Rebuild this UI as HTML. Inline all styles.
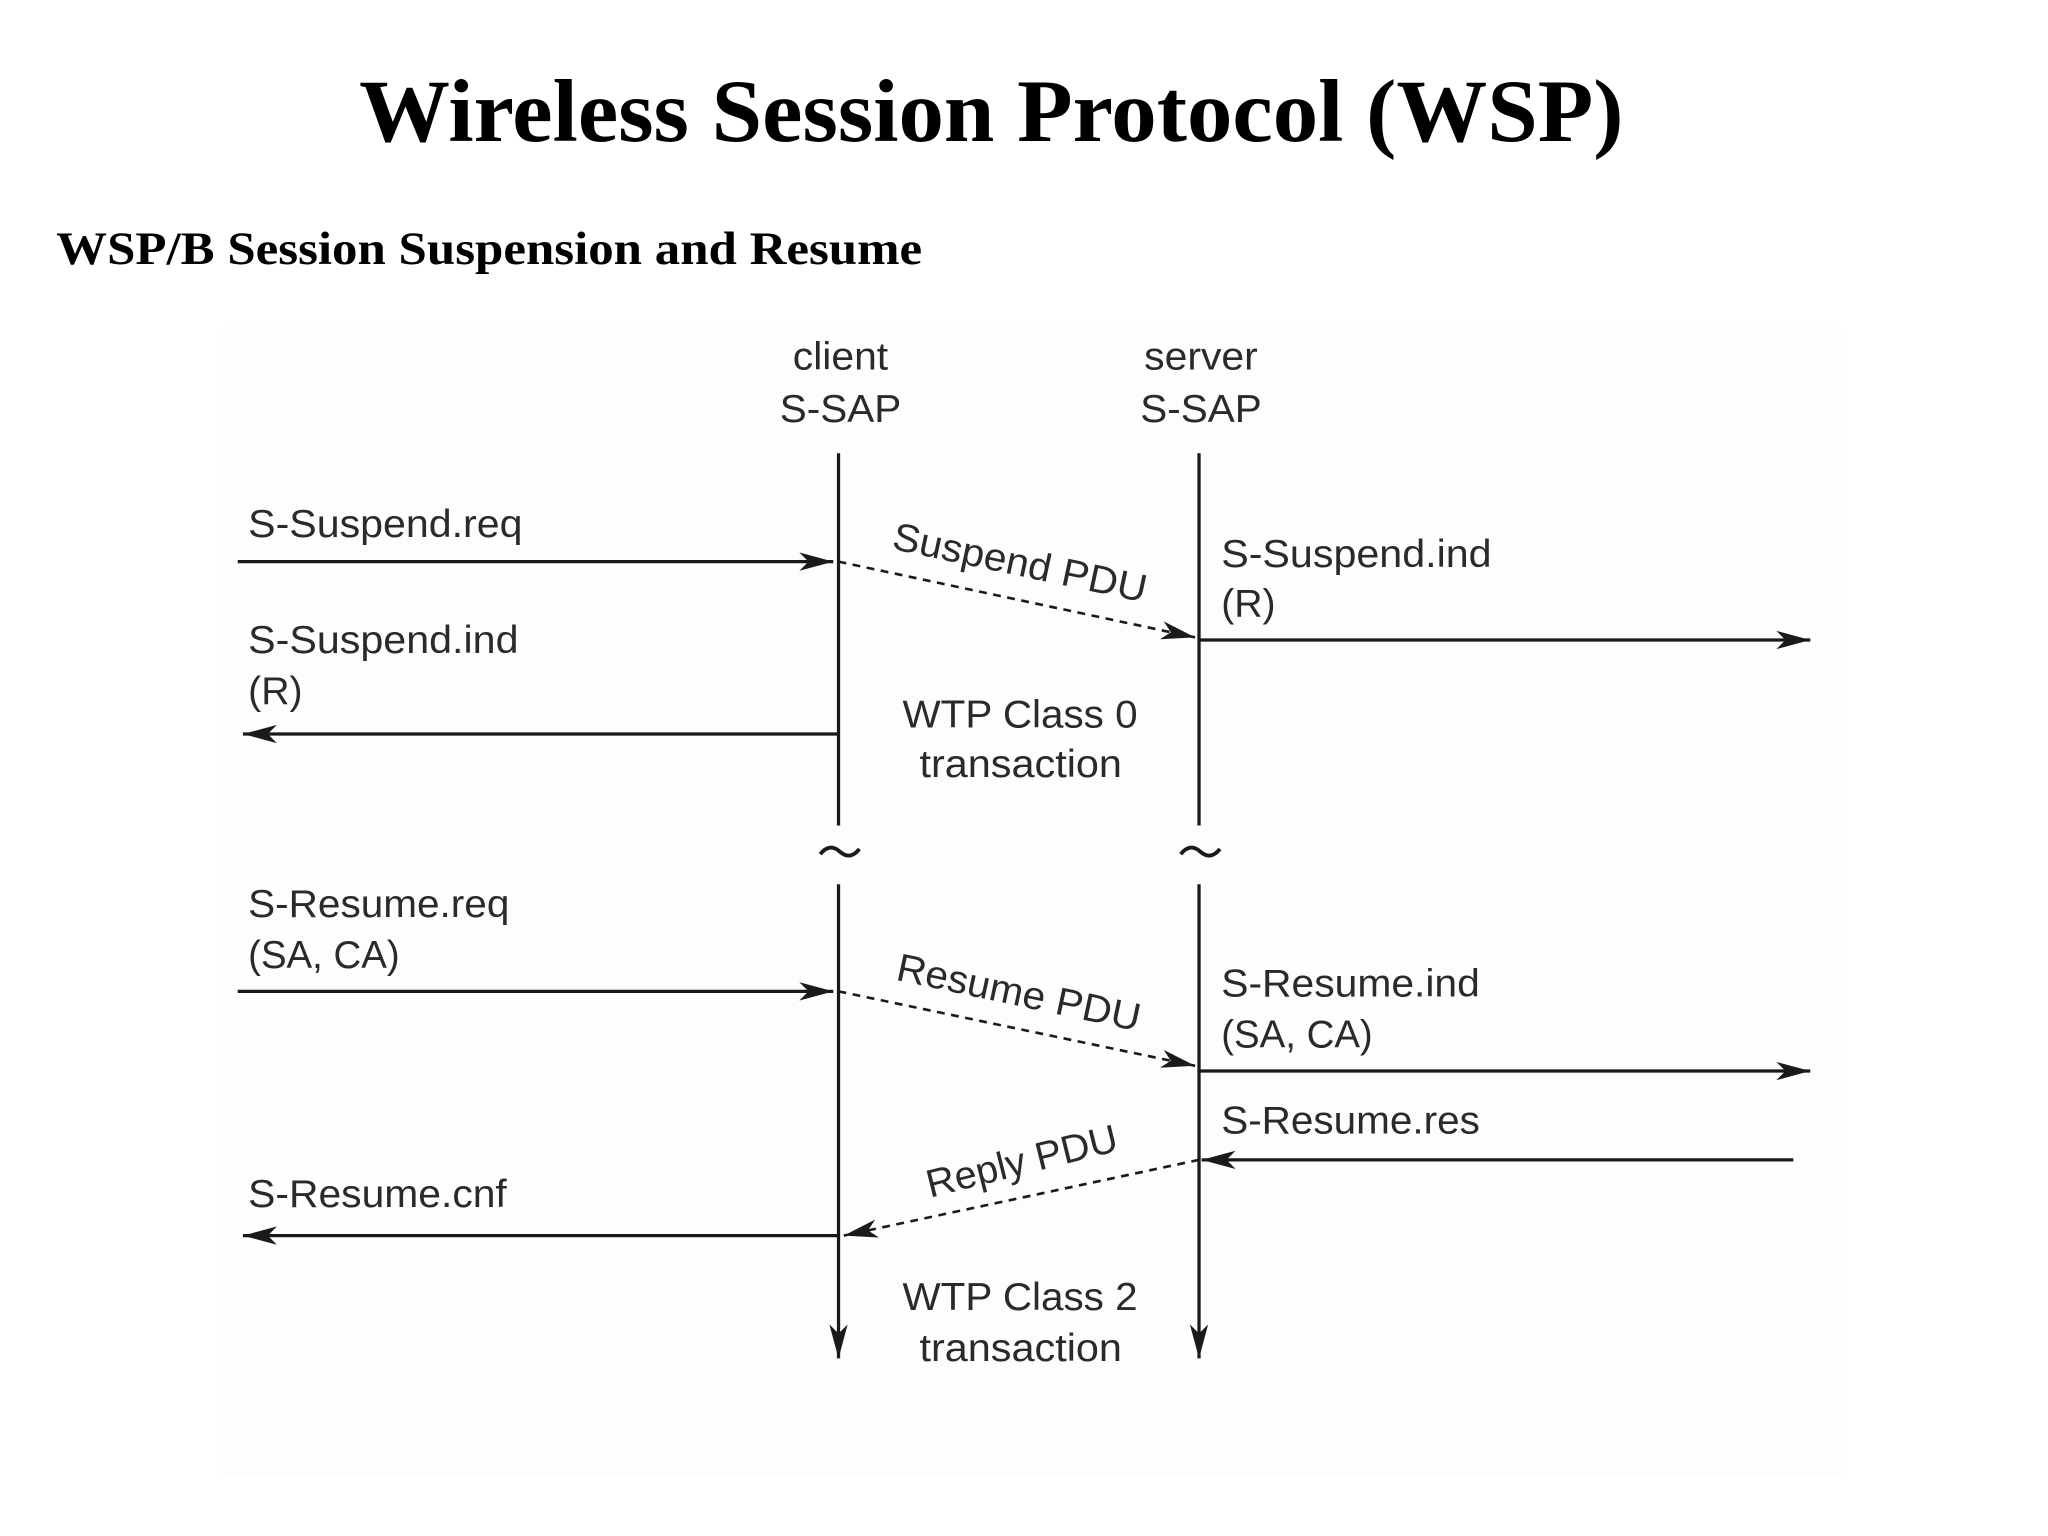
<!DOCTYPE html>
<html><head><meta charset="utf-8"><style>
html,body{margin:0;padding:0;background:#fff;}
svg{display:block;}
.s{font-family:"Liberation Sans",sans-serif;font-size:30px;fill:#2a2a2a;}
</style></head><body>
<svg width="2048" height="1536" viewBox="0 0 1568 1176" preserveAspectRatio="none" xmlns="http://www.w3.org/2000/svg">
<defs>
<marker id="a" viewBox="0 0 26 14" refX="26" refY="7" markerWidth="26" markerHeight="14" markerUnits="userSpaceOnUse" orient="auto">
<path d="M0,0 L26,7 L0,14 L7,7 Z" fill="#1a1a1a"/></marker>
</defs>
<rect width="1568" height="1176" fill="#fff"/>
<rect x="170" y="250" width="1240" height="880" fill="#fdfdfd"/>
<text x="275" y="108" textLength="968" lengthAdjust="spacingAndGlyphs" font-family="Liberation Serif,serif" font-weight="bold" font-size="68" fill="#000">Wireless Session Protocol (WSP)</text>
<text x="43" y="202" textLength="663" lengthAdjust="spacingAndGlyphs" font-family="Liberation Serif,serif" font-weight="bold" font-size="36" fill="#000">WSP/B Session Suspension and Resume</text>
<g class="s" lengthAdjust="spacingAndGlyphs">
<text x="607" y="283" textLength="73" lengthAdjust="spacingAndGlyphs">client</text>
<text x="597" y="323" textLength="93" lengthAdjust="spacingAndGlyphs">S-SAP</text>
<text x="876" y="283" textLength="87" lengthAdjust="spacingAndGlyphs">server</text>
<text x="873" y="323" textLength="93" lengthAdjust="spacingAndGlyphs">S-SAP</text>
<text x="691" y="557" textLength="180" lengthAdjust="spacingAndGlyphs">WTP Class 0</text>
<text x="704" y="595" textLength="155" lengthAdjust="spacingAndGlyphs">transaction</text>
<text x="691" y="1003" textLength="180" lengthAdjust="spacingAndGlyphs">WTP Class 2</text>
<text x="704" y="1042" textLength="155" lengthAdjust="spacingAndGlyphs">transaction</text>
<text x="190" y="411" textLength="210" lengthAdjust="spacingAndGlyphs">S-Suspend.req</text>
<text x="935" y="434" textLength="207" lengthAdjust="spacingAndGlyphs">S-Suspend.ind</text><text x="935" y="472">(R)</text>
<text x="190" y="500" textLength="207" lengthAdjust="spacingAndGlyphs">S-Suspend.ind</text><text x="190" y="539">(R)</text>
<text x="190" y="702" textLength="200" lengthAdjust="spacingAndGlyphs">S-Resume.req</text>
<text x="190" y="741" textLength="116" lengthAdjust="spacingAndGlyphs">(SA, CA)</text>
<text x="935" y="763" textLength="198" lengthAdjust="spacingAndGlyphs">S-Resume.ind</text>
<text x="935" y="802" textLength="116" lengthAdjust="spacingAndGlyphs">(SA, CA)</text>
<text x="935" y="868" textLength="198" lengthAdjust="spacingAndGlyphs">S-Resume.res</text>
<text x="190" y="924" textLength="198" lengthAdjust="spacingAndGlyphs">S-Resume.cnf</text>
<text transform="translate(682,420) rotate(12)" textLength="198" lengthAdjust="spacingAndGlyphs">Suspend PDU</text>
<text transform="translate(685,750) rotate(12)" textLength="190" lengthAdjust="spacingAndGlyphs">Resume PDU</text>
<text transform="translate(712,917) rotate(-14)" textLength="150" lengthAdjust="spacingAndGlyphs">Reply PDU</text>
</g>
<g stroke="#1a1a1a" stroke-width="2.5" fill="none">
<path d="M628,654 q7,-9 15,-2 q8,7 15,-2" stroke-width="3"/>
<path d="M904,654 q7,-9 15,-2 q8,7 15,-2" stroke-width="3"/>
<line x1="642" y1="347" x2="642" y2="632"/><line x1="918" y1="347" x2="918" y2="632"/>
<line x1="642" y1="677" x2="642" y2="1040" marker-end="url(#a)"/>
<line x1="918" y1="677" x2="918" y2="1040" marker-end="url(#a)"/>
<line x1="182" y1="430" x2="638" y2="430" marker-end="url(#a)"/>
<line x1="918" y1="490" x2="1386" y2="490" marker-end="url(#a)"/>
<line x1="642" y1="562" x2="186" y2="562" marker-end="url(#a)"/>
<line x1="182" y1="759" x2="638" y2="759" marker-end="url(#a)"/>
<line x1="918" y1="820" x2="1386" y2="820" marker-end="url(#a)"/>
<line x1="1373" y1="888" x2="920" y2="888" marker-end="url(#a)"/>
<line x1="642" y1="946" x2="186" y2="946" marker-end="url(#a)"/>
<g stroke-dasharray="6,5" stroke-width="2">
<line x1="642" y1="430" x2="915" y2="488" marker-end="url(#a)"/>
<line x1="642" y1="759" x2="915" y2="816" marker-end="url(#a)"/>
<line x1="918" y1="888" x2="646" y2="946" marker-end="url(#a)"/>
</g>
</g>
</svg>
</body></html>
